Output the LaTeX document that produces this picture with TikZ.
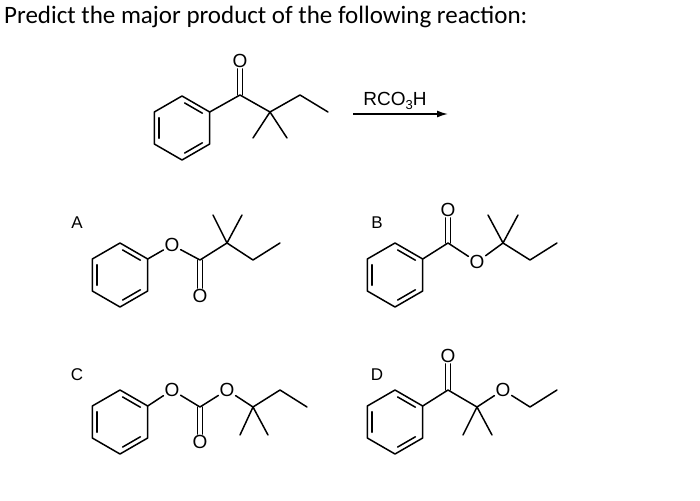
\documentclass[tikz,border=0pt]{standalone}
\usepackage{fontspec}
\setmainfont{Liberation Sans}
\newfontfamily\titlefont{Carlito}
\usetikzlibrary{calc,arrows.meta}
\newcommand\benz[2]{%
  \coordinate (#2c) at (#1);
  \coordinate (#2v1) at ($(#1)+(0,-32)$);
  \coordinate (#2v2) at ($(#1)+(27.7,-16)$);
  \coordinate (#2v3) at ($(#1)+(27.7,16)$);
  \coordinate (#2v4) at ($(#1)+(0,32)$);
  \coordinate (#2v5) at ($(#1)+(-27.7,16)$);
  \coordinate (#2v6) at ($(#1)+(-27.7,-16)$);
  \draw[bond] (#2v1)--(#2v2)--(#2v3)--(#2v4)--(#2v5)--(#2v6)--cycle;
  \draw[bond,shorten >=3pt,shorten <=3pt] ($(#2c)!0.83!(#2v1)$)--($(#2c)!0.83!(#2v2)$);
  \draw[bond,shorten >=3pt,shorten <=3pt] ($(#2c)!0.83!(#2v3)$)--($(#2c)!0.83!(#2v4)$);
  \draw[bond,shorten >=3pt,shorten <=3pt] ($(#2c)!0.83!(#2v5)$)--($(#2c)!0.83!(#2v6)$);
}
\newcommand\dbl[2]{%
  \draw[bond] ([xshift=-2.7pt]#1) -- ([xshift=-2.7pt]#2);
  \draw[bond] ([xshift=2.7pt]#1) -- ([xshift=2.7pt]#2);
}
\begin{document}
\begin{tikzpicture}[x=1pt,y=-1pt,
  bond/.style={line width=1.5pt,line cap=round,line join=round},
  atom/.style={font=\fontsize{19}{19}\selectfont,inner sep=1pt},
  lbl/.style={font=\fontsize{17}{17}\selectfont,inner sep=0pt}]
\useasboundingbox (0,0) rectangle (700,500);
\node[anchor=west,inner sep=0pt,font=\titlefont\fontsize{25}{25}\selectfont] (title) at (4,17) {Predict the major product of the following reaction:};
% starting material
\benz{182,128}{s}
\coordinate (sC1) at (240,95);
\node[atom] (sO) at (240,61) {O};
\coordinate (sQ) at (270,112);
\coordinate (sM1) at (253,138);
\coordinate (sM2) at (287,138);
\coordinate (sE1) at (300,95);
\coordinate (sE2) at (328,112);
\draw[bond] (sv2)--(sC1)--(sQ)--(sE1)--(sE2);
\draw[bond] (sQ)--(sM1); \draw[bond] (sQ)--(sM2);
\dbl{sC1}{sO.south}
\coordinate (ar1) at (353,114);
\coordinate (ar2) at (448,114);
\draw[line width=1.5pt,-{Latex[length=11pt,width=7pt]}] (ar1)--(ar2);
\node[lbl,font=\fontsize{19}{19}\selectfont] (rgt) at (395,101) {RCO\raisebox{-0.35ex}{\fontsize{13}{13}\selectfont 3}H};
% A
\node[lbl] (la) at (77,223) {A};
\benz{120,275}{a}
\node[atom] (aO1) at (172,245) {O};
\coordinate (aC) at (200,260);
\node[atom] (aO2) at (200,296) {O};
\coordinate (aQ) at (227,243);
\coordinate (aM1) at (213,215);
\coordinate (aM2) at (242,215);
\coordinate (aE1) at (253,260);
\coordinate (aE2) at (280,243);
\draw[bond] (av2)--(aO1)--(aC)--(aQ)--(aE1)--(aE2);
\draw[bond] (aQ)--(aM1); \draw[bond] (aQ)--(aM2);
\dbl{aC}{aO2.north}
% B
\node[lbl] (lb) at (377,223) {B};
\benz{395,275}{b}
\coordinate (bC) at (448,243);
\node[atom] (bO1) at (448,210) {O};
\node[atom] (bO2) at (477,262) {O};
\coordinate (bQ) at (503,243);
\coordinate (bM1) at (488,215);
\coordinate (bM2) at (518,215);
\coordinate (bE1) at (530,260);
\coordinate (bE2) at (557,243);
\draw[bond] (bv2)--(bC)--(bO2)--(bQ)--(bE1)--(bE2);
\draw[bond] (bQ)--(bM1); \draw[bond] (bQ)--(bM2);
\dbl{bC}{bO1.south}
% C
\node[lbl] (lc) at (77,375) {C};
\benz{120,422}{c}
\node[atom] (cO1) at (172,390) {O};
\coordinate (cC) at (200,407);
\node[atom] (cO2) at (200,442) {O};
\node[atom] (cO3) at (227,390) {O};
\coordinate (cQ) at (253,407);
\coordinate (cM1) at (240,435);
\coordinate (cM2) at (268,435);
\coordinate (cE1) at (280,390);
\coordinate (cE2) at (307,407);
\draw[bond] (cv2)--(cO1)--(cC)--(cO3)--(cQ)--(cE1)--(cE2);
\draw[bond] (cQ)--(cM1); \draw[bond] (cQ)--(cM2);
\dbl{cC}{cO2.north}
% D
\node[lbl] (ld) at (377,375) {D};
\benz{395,422}{d}
\coordinate (dC) at (448,390);
\node[atom] (dO1) at (448,356) {O};
\coordinate (dQ) at (477,407);
\coordinate (dM1) at (463,435);
\coordinate (dM2) at (492,435);
\node[atom] (dO2) at (503,390) {O};
\coordinate (dE1) at (530,407);
\coordinate (dE2) at (557,390);
\draw[bond] (dv2)--(dC)--(dQ)--(dO2)--(dE1)--(dE2);
\draw[bond] (dQ)--(dM1); \draw[bond] (dQ)--(dM2);
\dbl{dC}{dO1.south}
\end{tikzpicture}
\end{document}
